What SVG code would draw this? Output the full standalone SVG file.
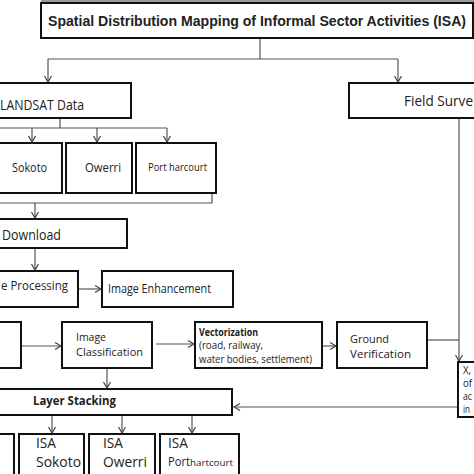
<svg xmlns="http://www.w3.org/2000/svg" width="474" height="474" viewBox="0 0 474 474">
<defs>
<style>
.box{fill:#fff;stroke:#111;stroke-width:2}
.c{fill:none;stroke:#555;stroke-width:1.2}
.t{font-family:"Open Sans","Liberation Sans",sans-serif;fill:#222}
.b{font-weight:bold}
</style>
<marker id="ah" markerUnits="userSpaceOnUse" markerWidth="10" markerHeight="10" refX="7" refY="4" orient="auto" viewBox="0 0 10 8">
<path d="M1,0.5 L7,4 L1,7.5" fill="none" stroke="#444" stroke-width="1.2"/>
</marker>
</defs>
<rect width="474" height="474" fill="#fff"/>
<line x1="41" y1="1" x2="474" y2="1" stroke="#999" stroke-width="2"/>

<g id="connectors">
<path class="c" d="M260,38 V59"/>
<path class="c" d="M48,59 H398"/>
<path class="c" d="M48,59 V82" marker-end="url(#ah)"/>
<path class="c" d="M398,59 V82" marker-end="url(#ah)"/>
<path class="c" d="M60,118 V128"/>
<path class="c" d="M0,128 H167"/>
<path class="c" d="M32,128 V142" marker-end="url(#ah)"/>
<path class="c" d="M97,128 V142" marker-end="url(#ah)"/>
<path class="c" d="M167,128 V142" marker-end="url(#ah)"/>
<path class="c" d="M212,193 V203 H0"/>
<path class="c" d="M35,203 V218" marker-end="url(#ah)"/>
<path class="c" d="M35,248 V270" marker-end="url(#ah)"/>
<path class="c" d="M78,289 H101" marker-end="url(#ah)"/>
<path class="c" d="M21,346 H61" marker-end="url(#ah)"/>
<path class="c" d="M156,344 H194" marker-end="url(#ah)"/>
<path class="c" d="M322,346 H336" marker-end="url(#ah)"/>
<path class="c" d="M427,340 H459"/>
<path class="c" d="M459,118 V361" marker-end="url(#ah)"/>
<path class="c" d="M458,407 H234" marker-end="url(#ah)"/>
<path class="c" d="M107,368 V388" marker-end="url(#ah)"/>
<path class="c" d="M52,415 V433" marker-end="url(#ah)"/>
<path class="c" d="M122,415 V433" marker-end="url(#ah)"/>
<path class="c" d="M192,415 V433" marker-end="url(#ah)"/>
</g>

<g id="title">
<rect class="box" x="41" y="3" width="432" height="35"/>
<text x="48" y="26" font-family="'Liberation Sans',Arial,sans-serif" font-weight="bold" font-size="13.8" fill="#222" textLength="418" lengthAdjust="spacingAndGlyphs">Spatial Distribution Mapping of Informal Sector Activities  (ISA)</text>
</g>
<g id="landsat">
<rect class="box" x="-5" y="83" width="136" height="35"/>
<text class="t" x="0" y="110" font-size="14" textLength="84" lengthAdjust="spacingAndGlyphs">LANDSAT Data</text>
</g>
<g id="field">
<rect class="box" x="349" y="83" width="130" height="35"/>
<text class="t" x="404" y="106" font-size="14" textLength="69" lengthAdjust="spacingAndGlyphs">Field Surve</text>
</g>
<g id="sokoto">
<rect class="box" x="-5" y="143" width="67" height="50"/>
<text class="t" x="12" y="172" font-size="12" textLength="35" lengthAdjust="spacingAndGlyphs">Sokoto</text>
</g>
<g id="owerri">
<rect class="box" x="66" y="143" width="66" height="50"/>
<text class="t" x="85" y="172" font-size="12" textLength="36" lengthAdjust="spacingAndGlyphs">Owerri</text>
</g>
<g id="portharcourt">
<rect class="box" x="136" y="143" width="80" height="50"/>
<text class="t" x="148" y="171" font-size="10" textLength="59" lengthAdjust="spacingAndGlyphs">Port harcourt</text>
</g>
<g id="download">
<rect class="box" x="-5" y="219" width="132" height="29"/>
<text class="t" x="2" y="240" font-size="14" textLength="59" lengthAdjust="spacingAndGlyphs">Download</text>
</g>
<g id="processing">
<rect class="box" x="-5" y="271" width="83" height="36"/>
<text class="t" x="1" y="290" font-size="13" textLength="67" lengthAdjust="spacingAndGlyphs">e  Processing</text>
</g>
<g id="enhancement">
<rect class="box" x="102" y="271" width="131" height="36"/>
<text class="t" x="108" y="293" font-size="12" textLength="103" lengthAdjust="spacingAndGlyphs">Image Enhancement</text>
</g>
<g id="leftbox">
<rect class="box" x="-5" y="322" width="26" height="46"/>
</g>
<g id="classification">
<rect class="box" x="62" y="322" width="90" height="46"/>
<text class="t" x="76" y="341" font-size="11.5" textLength="30" lengthAdjust="spacingAndGlyphs">Image</text>
<text class="t" x="76" y="356" font-size="11.5" textLength="67" lengthAdjust="spacingAndGlyphs">Classification</text>
</g>
<g id="vectorization">
<rect class="box" x="195" y="322" width="127" height="46"/>
<text class="t b" x="199" y="336" font-size="10" textLength="59" lengthAdjust="spacingAndGlyphs">Vectorization</text>
<text class="t" x="199" y="349" font-size="10" textLength="64" lengthAdjust="spacingAndGlyphs">(road,  railway,</text>
<text class="t" x="199" y="363" font-size="10" textLength="113" lengthAdjust="spacingAndGlyphs">water bodies, settlement)</text>
</g>
<g id="ground">
<rect class="box" x="337" y="322" width="90" height="46"/>
<text class="t" x="350" y="343" font-size="11.5" textLength="39" lengthAdjust="spacingAndGlyphs">Ground</text>
<text class="t" x="350" y="358" font-size="11.5" textLength="61" lengthAdjust="spacingAndGlyphs">Verification</text>
</g>
<g id="xy">
<rect class="box" x="458" y="362" width="25" height="55"/>
<text class="t" x="463" y="374" font-size="10" textLength="8" lengthAdjust="spacingAndGlyphs">X,</text>
<text class="t" x="463" y="387" font-size="10" textLength="9" lengthAdjust="spacingAndGlyphs">of</text>
<text class="t" x="463" y="400" font-size="10" textLength="9" lengthAdjust="spacingAndGlyphs">ac</text>
<text class="t" x="463" y="413" font-size="10" textLength="7" lengthAdjust="spacingAndGlyphs">in</text>
</g>
<g id="layer">
<rect class="box" x="-5" y="389" width="237" height="26"/>
<text class="t b" x="33" y="405" font-size="13" textLength="83" lengthAdjust="spacingAndGlyphs">Layer Stacking</text>
</g>
<g id="isa0">
<rect class="box" x="-5" y="434" width="19" height="50"/>
</g>
<g id="isa-sokoto">
<rect class="box" x="19" y="434" width="65" height="50"/>
<text class="t" x="36" y="448" font-size="14" textLength="20" lengthAdjust="spacingAndGlyphs">ISA</text>
<text class="t" x="36" y="467" font-size="15" textLength="45" lengthAdjust="spacingAndGlyphs">Sokoto</text>
</g>
<g id="isa-owerri">
<rect class="box" x="89" y="434" width="66" height="50"/>
<text class="t" x="103" y="448" font-size="14" textLength="20" lengthAdjust="spacingAndGlyphs">ISA</text>
<text class="t" x="103" y="467" font-size="15" textLength="44" lengthAdjust="spacingAndGlyphs">Owerri</text>
</g>
<g id="isa-port">
<rect class="box" x="160" y="434" width="79" height="50"/>
<text class="t" x="168" y="448" font-size="14" textLength="20" lengthAdjust="spacingAndGlyphs">ISA</text>
<text class="t" x="168" y="466" font-size="12" textLength="22" lengthAdjust="spacingAndGlyphs">Port</text>
<text class="t" x="190" y="466" font-size="9.5" textLength="43" lengthAdjust="spacingAndGlyphs">hartcourt</text>
</g>
</svg>
